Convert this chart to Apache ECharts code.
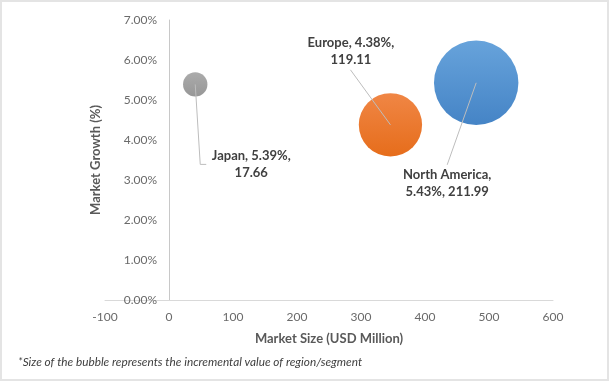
<!DOCTYPE html>
<html>
<head>
<meta charset="utf-8">
<script src="https://cdn.jsdelivr.net/npm/echarts@6/dist/echarts.min.js"></script>
<style>
html,body{margin:0;padding:0;background:#fff;}
#wrap{position:relative;width:609px;height:381px;}
#chart{position:absolute;left:0;top:0;width:609px;height:381px;}
#frame{position:absolute;left:0;top:0;width:609px;height:381px;box-sizing:border-box;border:2px solid #e4e4e4;pointer-events:none;}
</style>
</head>
<body>
<div id="wrap"><div id="chart"></div><div id="frame"></div></div>
<script>
// ---- data ----
const regions = ['Japan', 'Europe', 'North America'];
const marketSize = [41, 346, 480];          // USD Million (x)
const marketGrowth = [5.39, 4.38, 5.43];    // % (y)
const incrementalValue = [17.66, 119.11, 211.99]; // bubble size
const xTicks = [-100, 0, 100, 200, 300, 400, 500, 600];
const yTicks = [0, 1, 2, 3, 4, 5, 6, 7];

// ---- styling / layout (not data) ----
const bubbleColors = [
  ['#ababab', '#979797'],
  ['#f08645', '#e66d1b'],
  ['#67a3db', '#4584c6']
];
const labelTexts = regions.map((r, i) =>
  i === 2 ? r + ',\n' + marketGrowth[i].toFixed(2) + '%, ' + incrementalValue[i].toFixed(2)
          : r + ', ' + marketGrowth[i].toFixed(2) + '%,\n' + incrementalValue[i].toFixed(2));
// leader line points & label centre, pixel offsets relative to the bubble centre
const leaderOffsets = [
  [[0, 0], [5, 80], [11, 80]],
  [[0, 0], [-40, -55]],
  [[0, 0], [-29, 82]]
];
const labelOffsets = [[56, 80], [-39.5, -73], [-29, 101]];

const chart = echarts.init(document.getElementById('chart'));
const fontFam = 'Lato, "Open Sans", sans-serif';

const scatterData = regions.map((r, i) => ({
  name: r,
  value: [marketSize[i], marketGrowth[i], incrementalValue[i]],
  itemStyle: {
    opacity: 1,
    color: new echarts.graphic.LinearGradient(0, 0, 0, 1, [
      {offset: 0, color: bubbleColors[i][0]},
      {offset: 1, color: bubbleColors[i][1]}
    ])
  }
}));

chart.setOption({
  animation: false,
  grid: {left: 105, right: 56, top: 20, bottom: 81},
  xAxis: {
    type: 'value', min: xTicks[0], max: xTicks[xTicks.length - 1], interval: 100,
    name: 'Market Size (USD Million)', nameLocation: 'middle', nameGap: 32,
    nameMoveOverlap: false,
    nameTextStyle: {color: '#595959', fontSize: 13, fontWeight: 'bold', fontFamily: fontFam},
    axisLine: {show: true, onZero: true, lineStyle: {color: '#d9d9d9', width: 1}},
    axisTick: {show: false},
    splitLine: {show: false},
    axisLabel: {color: '#6a6a6a', fontSize: 12, fontFamily: fontFam, margin: 11}
  },
  yAxis: {
    type: 'value', min: yTicks[0], max: yTicks[yTicks.length - 1], interval: 1,
    name: 'Market Growth (%)', nameLocation: 'middle', nameGap: 3,
    nameMoveOverlap: false,
    nameTextStyle: {color: '#595959', fontSize: 13, fontWeight: 'bold', fontFamily: fontFam},
    axisLine: {show: true, onZero: true, lineStyle: {color: '#c8c8c8', width: 1}},
    axisTick: {show: false},
    splitLine: {show: false},
    axisLabel: {color: '#6a6a6a', fontSize: 12, fontFamily: fontFam, margin: -52,
      formatter: v => v.toFixed(2) + '%'}
  },
  graphic: [{
    type: 'text', left: 18, top: 356,
    style: {text: '*Size of the bubble represents the incremental value of region/segment',
      fill: '#404040', font: 'italic 11.8px ' + fontFam}
  }],
  series: [{
    type: 'scatter',
    data: scatterData,
    symbolSize: v => 5.8 * Math.sqrt(v[2]),
    z: 2
  }, {
    type: 'custom',
    z: 3,
    data: regions.map((r, i) => [marketSize[i], marketGrowth[i]]),
    renderItem: (params, api) => {
      const i = params.dataIndex;
      const c = api.coord([api.value(0), api.value(1)]);
      const pts = leaderOffsets[i].map(o => [c[0] + o[0], c[1] + o[1]]);
      return {
        type: 'group',
        children: [{
          type: 'polyline',
          shape: {points: pts},
          style: {stroke: '#bdbdbd', lineWidth: 1, fill: null}
        }, {
          type: 'text',
          x: c[0] + labelOffsets[i][0],
          y: c[1] + labelOffsets[i][1],
          style: {text: labelTexts[i], fill: '#404040', font: 'bold 13px ' + fontFam,
            align: 'center', verticalAlign: 'middle', lineHeight: 17}
        }]
      };
    }
  }]
});
</script>
</body>
</html>
